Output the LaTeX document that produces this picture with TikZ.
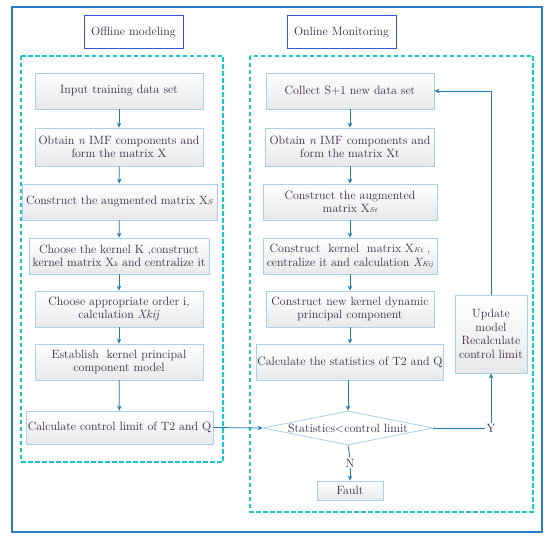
\documentclass[tikz,border=0pt]{standalone}
\usetikzlibrary{arrows.meta,shapes.geometric}
\definecolor{txt}{HTML}{3A2848}
\definecolor{arr}{HTML}{1F78B8}
\definecolor{bord}{HTML}{A8D0E6}
\definecolor{dashc}{HTML}{14C8CC}
\definecolor{framec}{HTML}{2A7BC8}
\definecolor{titleb}{HTML}{3355E0}
\begin{document}
\begin{tikzpicture}[x=1pt,y=-1pt,
  font=\fontsize{12}{13.5}\selectfont, text=txt,
  pbox/.style={draw=bord, line width=0.8pt, top color=white, bottom color=black!9, align=center, inner sep=1pt},
  tbox/.style={draw=titleb, line width=1pt, fill=white, align=center},
  dbox/.style={draw=dashc, line width=1.5pt, dash pattern=on 4.5pt off 2.5pt},
  flow/.style={draw=arr, line width=0.8pt, -{Stealth[length=5pt,width=4.5pt]}},
  line/.style={draw=arr, line width=0.8pt}]
\useasboundingbox (0,0) rectangle (550,537);
\draw[draw=framec, line width=1.3pt] (12,7) rectangle (542,532);
\draw[dbox] (250,56) rectangle (533,512);
\draw[dbox] (21,56) rectangle (223,462);
\node[tbox, minimum width=99pt, minimum height=33pt] (t1) at (133.5,32.5) {Offline modeling};
\node[tbox, minimum width=109pt, minimum height=33pt] (t2) at (341.5,32.5) {Online Monitoring};
% left column
\node[pbox, minimum width=168pt, minimum height=36pt] (l1) at (119,91) {Input training data set};
\node[pbox, minimum width=168pt, minimum height=38pt] (l2) at (119,147) {Obtain \textit{n} IMF components and\\form the matrix X};
\node[pbox, minimum width=195pt, minimum height=36pt] (l3) at (119.5,202) {Construct the augmented matrix X{\scriptsize\textit{S}}};
\node[pbox, minimum width=180pt, minimum height=36pt] (l4) at (119,256) {Choose the kernel K ,construct\\kernel matrix X{\scriptsize\textit{k}} and centralize it};
\node[pbox, minimum width=168pt, minimum height=36pt] (l5) at (119,309) {Choose appropriate order i,\\calculation \textit{Xkij}};
\node[pbox, minimum width=168pt, minimum height=36pt] (l6) at (119,362) {Establish\ \ kernel principal\\component model};
\node[pbox, minimum width=187pt, minimum height=33pt] (l7) at (119.5,427.5) {Calculate control limit of T2 and Q};
% right column
\node[pbox, minimum width=168pt, minimum height=36pt] (r1) at (350,91) {Collect S+1 new data set};
\node[pbox, minimum width=169pt, minimum height=38pt] (r2) at (350,147) {Obtain \textit{n} IMF components and\\form the matrix Xt};
\node[pbox, minimum width=174pt, minimum height=36pt] (r3) at (350,202) {Construct the augmented\\matrix X{\scriptsize\textit{St}}};
\node[pbox, minimum width=174pt, minimum height=36pt] (r4) at (350,256) {Construct\ \ kernel\ \ matrix X{\scriptsize\textit{Kt}} ,\\centralize it and calculation \textit{X{\scriptsize Kij}}};
\node[pbox, minimum width=168pt, minimum height=36pt] (r5) at (350,309) {Construct new kernel dynamic\\principal component};
\node[pbox, minimum width=186pt, minimum height=36pt] (r6) at (350,362) {Calculate the statistics of T2 and Q};
\node[diamond, draw=bord, line width=0.8pt, fill=white, aspect=5, minimum width=170pt, minimum height=34pt, inner sep=0pt] (d) at (348,428) {Statistics<control limit};
\node[pbox, minimum width=66pt, minimum height=19pt] (f) at (350,490.5) {Fault};
\node[pbox, minimum width=72pt, minimum height=78pt] (u) at (491,334) {Update\\model\\Recalculate\\control limit};
\node[inner sep=1pt] (n) at (350,463) {N};
\node[inner sep=1pt] (y) at (491,428) {Y};
\coordinate (c1) at (491,91);
% arrows left
\draw[flow] (l1) -- (l2);
\draw[flow] (l2) -- (l3);
\draw[flow] (l3) -- (l4);
\draw[flow] (l4) -- (l5);
\draw[flow] (l5) -- (l6);
\draw[flow] (l6) -- (l7);
% arrows right
\draw[flow] (r1) -- (r2);
\draw[flow] (r2) -- (r3);
\draw[flow] (r3) -- (r4);
\draw[flow] (r4) -- (r5);
\draw[flow] (r5) -- (r6);
\draw[flow] (r6.south -| d.north) -- (d.north);
\draw[flow] (l7.east) -- (d.west);
\draw[line] (d.south) -- (n.north);
\draw[flow] (n.south) -- (f.north);
\draw[line] (d.east) -- (y.west);
\draw[flow] (y.north) -- (u.south);
\draw[flow] (u.north) -- (c1) -- (r1.east);
\end{tikzpicture}
\end{document}
